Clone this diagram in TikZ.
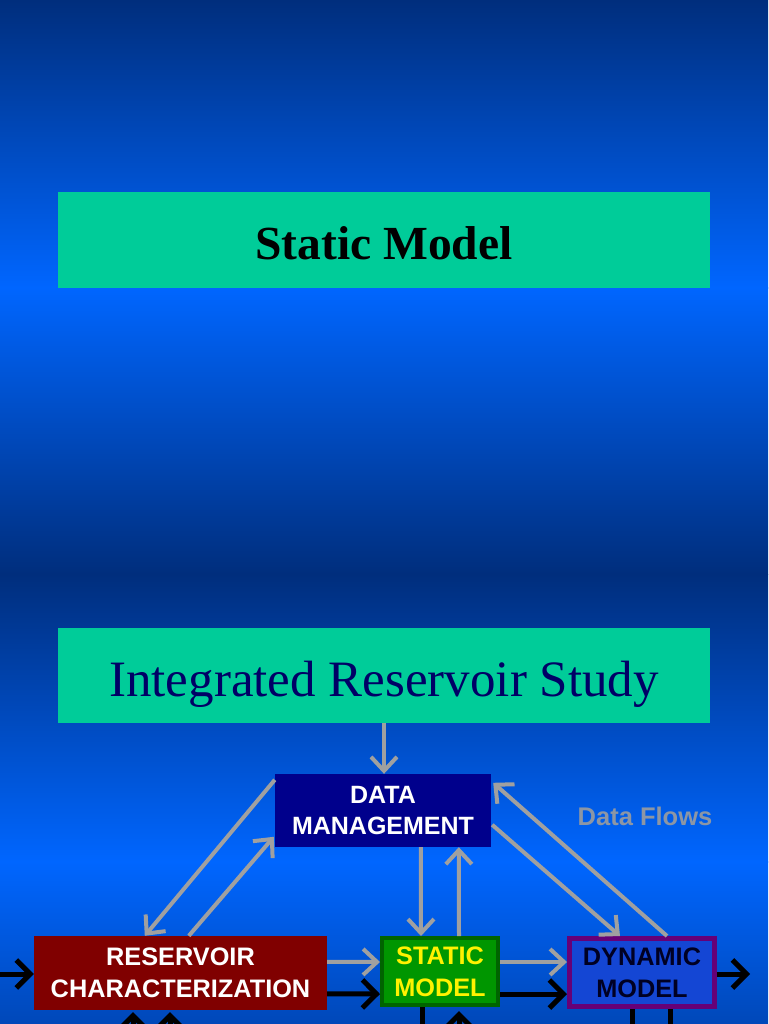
\documentclass[tikz,border=0pt]{standalone}
\usepackage{fontspec}
\setmainfont{Liberation Serif}
\newfontfamily\arialf{Liberation Sans}
\usetikzlibrary{arrows.meta,calc}
\definecolor{bgdark}{RGB}{0,46,125}
\definecolor{bgbright}{RGB}{0,102,255}
\definecolor{bgmid}{RGB}{0,72,185}
\definecolor{teal1}{RGB}{0,204,153}
\definecolor{navyt}{RGB}{0,0,102}
\definecolor{dmfill}{RGB}{0,0,140}
\definecolor{rcfill}{RGB}{128,0,0}
\definecolor{smfill}{RGB}{0,150,0}
\definecolor{smborder}{RGB}{0,100,0}
\definecolor{dyfill}{RGB}{20,70,212}
\definecolor{dyborder}{RGB}{102,0,119}
\definecolor{dytext}{RGB}{0,0,35}
\definecolor{graya}{RGB}{160,160,160}
\definecolor{flowtext}{RGB}{140,150,165}
\begin{document}
\begin{tikzpicture}[x=1pt,y=-1pt,
  titlebox/.style={fill=teal1, inner sep=0pt, minimum width=652pt, minimum height=95pt, text depth=0pt},
  bx/.style={inner sep=0pt, align=center, font=\arialf\bfseries\fontsize{25.3}{32}\selectfont},
  garr/.style={draw=graya, line width=4pt, -{Straight Barb[length=14pt,width=26pt]}},
  barr/.style={draw=black, line width=5pt, -{Straight Barb[length=14pt,width=28pt]}},
  bline/.style={draw=black, line width=5pt}]
\useasboundingbox (0,0) rectangle (768,1024);
\clip (0,0) rectangle (768,1024);
% backgrounds (two slides)
\shade[top color=bgdark, bottom color=bgbright] (0,0) rectangle (768,288);
\shade[top color=bgbright, bottom color=bgdark] (0,287) rectangle (768,574);
\shade[top color=bgdark, bottom color=bgbright] (0,574) rectangle (768,862);
\shade[top color=bgbright, bottom color=bgmid] (0,861) rectangle (768,1024);
% titles
\node[titlebox, text height=38pt, font=\bfseries\fontsize{47.5}{60}\selectfont] (t1) at (384,240) {Static Model};
\node[titlebox, text=navyt, text height=42pt, font=\fontsize{51}{60}\selectfont] (t2) at (384,675) {Integrated Reservoir Study};
% boxes
\node[bx, fill=dmfill, text=white, minimum width=216pt, minimum height=73pt, font=\arialf\bfseries\fontsize{25}{31}\selectfont] (dm) at (383,810.5) {DATA\\MANAGEMENT};
\node[bx, fill=rcfill, text=white, minimum width=293pt, minimum height=74pt] (rc) at (180.5,973) {RESERVOIR\\CHARACTERIZATION};
\node[bx, fill=smfill, draw=smborder, line width=4pt, text=yellow, minimum width=116pt, minimum height=67pt] (sm) at (440,971.5) {STATIC\\MODEL};
\node[bx, fill=dyfill, draw=dyborder, line width=5pt, text=dytext, minimum width=145pt, minimum height=68pt] (dy) at (642,972.5) {DYNAMIC\\MODEL};
\node[font=\arialf\bfseries\fontsize{25.5}{28}\selectfont, text=flowtext, inner sep=0pt] (flows) at (645,816) {Data Flows};
% gray data-flow arrows
\draw[garr] (t2.south) -- (t2.south |- dm.north);
\draw[garr] ($(dm.north west)+(0,6)$) -- ($(rc.north west)+(111,0)$);
\draw[garr] ($(rc.north west)+(155,0)$) -- ($(dm.north west)+(-1,63)$);
\draw[garr] ($(dm.south west)+(146,0)$) -- ($(sm.north west)+(41,0)$);
\draw[garr] ($(sm.north west)+(79,0)$) -- ($(dm.south west)+(184,0)$);
\draw[garr] ($(dm.north east)+(1,51)$) -- ($(dy.north west)+(53,0)$);
\draw[garr] ($(dy.north west)+(100,0)$) -- ($(dm.north east)+(2,9)$);
\draw[garr] ($(rc.north east)+(0,26)$) -- ($(sm.north west)+(0,26)$);
\draw[garr] ($(sm.north east)+(0,26)$) -- ($(dy.north west)+(0,26)$);
% black process arrows
\draw[barr] ($(rc.north east)+(0,58)$) -- ($(sm.north west)+(0,58)$);
\draw[barr] ($(sm.north east)+(0,58)$) -- ($(dy.north west)+(0,58)$);
\coordinate (in) at (0,974);
\draw[barr] (in) -- (in -| rc.west);
\coordinate (out) at (750,974);
\draw[barr] (out -| dy.east) -- (out);
\coordinate (b1) at (133,1040);
\coordinate (b2) at (170,1040);
\coordinate (b3) at (422,1040);
\coordinate (b4) at (459,1040);
\coordinate (b5) at (632,1040);
\coordinate (b6) at (670,1040);
\draw[barr] (b1) -- ($(b1 |- rc.south)+(0,2)$);
\draw[barr] (b2) -- ($(b2 |- rc.south)+(0,2)$);
\draw[bline] (b3 |- sm.south) -- (b3);
\draw[barr] (b4) -- ($(b4 |- sm.south)+(0,4)$);
\draw[bline] (b5 |- dy.south) -- (b5);
\draw[bline] (b6 |- dy.south) -- (b6);
\end{tikzpicture}
\end{document}
